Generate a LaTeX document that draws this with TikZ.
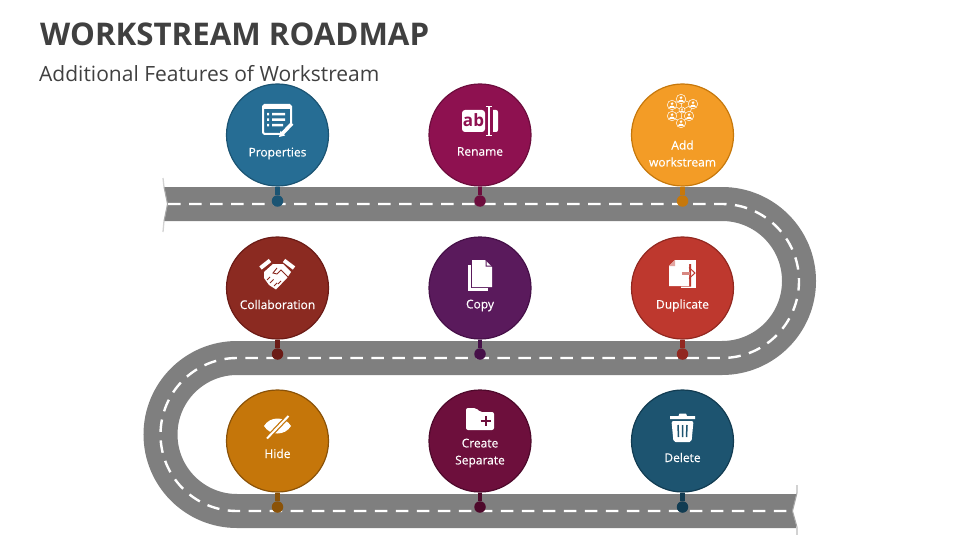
\documentclass[tikz,border=0pt]{standalone}
\usepackage{fontspec}
\setmainfont{Open Sans}
\newfontfamily\stopfont[FakeBold=0.35]{Open Sans}
\usepackage{tikz}
\usetikzlibrary{arrows.meta, positioning, calc}
\usepackage{xcolor}
\definecolor{roadgray}{RGB}{127,127,127}
\definecolor{titlegray}{RGB}{64,64,64}
\definecolor{propblue}{RGB}{38,109,148}
\definecolor{propdark}{RGB}{27,84,115}
\definecolor{renamemag}{RGB}{142,17,80}
\definecolor{renamedark}{RGB}{109,13,61}
\definecolor{addorange}{RGB}{243,156,38}
\definecolor{adddark}{RGB}{198,120,12}
\definecolor{collabred}{RGB}{139,42,33}
\definecolor{collabdark}{RGB}{107,27,22}
\definecolor{copypurple}{RGB}{90,26,92}
\definecolor{copydark}{RGB}{70,16,72}
\definecolor{dupred}{RGB}{190,56,46}
\definecolor{dupdark}{RGB}{146,40,32}
\definecolor{hideochre}{RGB}{197,118,10}
\definecolor{hidedark}{RGB}{138,82,8}
\definecolor{createwine}{RGB}{109,15,60}
\definecolor{createdark}{RGB}{78,9,43}
\definecolor{delnavy}{RGB}{29,84,112}
\definecolor{deldark}{RGB}{18,60,82}
\tikzset{
  roadbase/.style={draw=roadgray, line width=34pt},
  roaddash/.style={draw=white, line width=2.4pt, dash pattern=on 12.5pt off 8.5pt},
  stopdisc/.style={circle, minimum size=102pt, inner sep=0pt, line width=1.2pt},
  stoppin/.style={circle, minimum size=11.5pt, inner sep=0pt},
  stopstem/.style={line width=4.5pt},
  stoplabel/.style={text=white, font=\fontsize{12}{17}\stopfont, align=center, inner sep=0pt},
  netperson/.pic={
    \draw[white, line width=0.5pt, fill=addorange] (0,0) circle (5);
    \fill[white] (0,-1.4) circle (1.5);
    \fill[white] (-2.8,2.8) .. controls (-2.8,0.2) and (2.8,0.2) .. (2.8,2.8) -- cycle;
  }
}
\begin{document}
\begin{tikzpicture}[x=1pt, y=-1pt]
  \useasboundingbox (0,0) rectangle (960,540);

  % titles
  \node[anchor=west, inner sep=0pt, text=titlegray, font=\fontsize{31.25}{36}\selectfont\bfseries] (title) at (40,34) {WORKSTREAM ROADMAP};
  \node[anchor=west, inner sep=0pt, text=titlegray, font=\fontsize{21}{24}\selectfont] (subtitle) at (39,74) {Additional Features of Workstream};

  % road
  \draw[roadbase] (164,204) -- (722,204) arc[start angle=-90, end angle=90, radius=77] -- (237,358) arc[start angle=-90, end angle=-270, radius=76.5] -- (796,511);
  \draw[roaddash] (168,204) -- (722,204) arc[start angle=-90, end angle=90, radius=77] -- (237,358) arc[start angle=-90, end angle=-270, radius=76.5] -- (792,511);

  % road ends
  \fill[white] (160,186) -- (164,186) -- (167.5,204) -- (164,222) -- (160,222) -- cycle;
  \draw[gray!35, line width=1.3pt] (163,178) -- (164,187) (164,221) -- (163,232);
  \draw[gray!70, line width=1pt] (164,187) -- (167.5,204) -- (164,221);
  \fill[white] (800,492) -- (797,492) -- (792.5,511) -- (797,528) -- (800,528) -- cycle;
  \draw[gray!35, line width=1.3pt] (797,485) -- (797,493) (797,527) -- (797,535);
  \draw[gray!70, line width=1pt] (797,493) -- (792.5,511) -- (797,527);

  % stops, first row
  \node[stopdisc, fill=propblue, draw=propdark] (properties) at (277.5,135) {};
  \node[stoppin, fill=propdark] (pinproperties) at (277.5,201) {};
  \draw[stopstem, propdark] (properties.south) -- (pinproperties);
  \node[stoplabel] (txtproperties) at (277.5,153.5) {Properties};

  \node[stopdisc, fill=renamemag, draw=renamedark] (rename) at (480,135) {};
  \node[stoppin, fill=renamedark] (pinrename) at (480,201) {};
  \draw[stopstem, renamedark] (rename.south) -- (pinrename);
  \node[stoplabel] (txtrename) at (480,151.5) {Rename};

  \node[stopdisc, fill=addorange, draw=adddark] (addws) at (682.5,135) {};
  \node[stoppin, fill=adddark] (pinaddws) at (682.5,201) {};
  \draw[stopstem, adddark] (addws.south) -- (pinaddws);
  \node[stoplabel] (txtaddws) at (682.5,153.5) {Add\\workstream};

  % stops, second row
  \node[stopdisc, fill=collabred, draw=collabdark] (collab) at (277.5,288) {};
  \node[stoppin, fill=collabdark] (pincollab) at (277.5,354) {};
  \draw[stopstem, collabdark] (collab.south) -- (pincollab);
  \node[stoplabel] (txtcollab) at (277.5,304.5) {Collaboration};

  \node[stopdisc, fill=copypurple, draw=copydark] (copy) at (480,288) {};
  \node[stoppin, fill=copydark] (pincopy) at (480,354) {};
  \draw[stopstem, copydark] (copy.south) -- (pincopy);
  \node[stoplabel] (txtcopy) at (480,305.5) {Copy};

  \node[stopdisc, fill=dupred, draw=dupdark] (duplicate) at (682.5,288) {};
  \node[stoppin, fill=dupdark] (pinduplicate) at (682.5,354) {};
  \draw[stopstem, dupdark] (duplicate.south) -- (pinduplicate);
  \node[stoplabel] (txtduplicate) at (682.5,305.5) {Duplicate};

  % stops, third row
  \node[stopdisc, fill=hideochre, draw=hidedark] (hide) at (277.5,441) {};
  \node[stoppin, fill=hidedark] (pinhide) at (277.5,507) {};
  \draw[stopstem, hidedark] (hide.south) -- (pinhide);
  \node[stoplabel] (txthide) at (277.5,453.5) {Hide};

  \node[stopdisc, fill=createwine, draw=createdark] (create) at (480,441) {};
  \node[stoppin, fill=createdark] (pincreate) at (480,507) {};
  \draw[stopstem, createdark] (create.south) -- (pincreate);
  \node[stoplabel] (txtcreate) at (480,453) {Create\\Separate};

  \node[stopdisc, fill=delnavy, draw=deldark] (delete) at (682.5,441) {};
  \node[stoppin, fill=deldark] (pindelete) at (682.5,507) {};
  \draw[stopstem, deldark] (delete.south) -- (pindelete);
  \node[stoplabel] (txtdelete) at (682.5,457.5) {Delete};

  % properties icon
  \draw[white, line width=2pt, rounded corners=1.5pt] (284,134) -- (263,134) -- (263,105) -- (291,105) -- (291,124);
  \fill[white] (263,105) rectangle (291,109);
  \fill[white] (267,113) rectangle (269,115.5) (267,118.5) rectangle (269,121) (267,124) rectangle (269,126.5);
  \fill[white] (272,113) rectangle (285,115.5) (272,118.5) rectangle (285,121) (272,124) rectangle (283,126.5);
  \draw[propblue, line width=5pt] (281.5,134.5) -- (291,124.5);
  \draw[white, line width=3.6pt] (282.5,133.5) -- (292,123.5);
  \fill[white] (279,137) -- (280.5,131) -- (285,135.5) -- cycle;

  % rename icon
  \fill[white, rounded corners=3pt] (462,110) rectangle (485,132);
  \fill[white] (493,110) -- (496,110) .. controls (497.5,110) and (498,111) .. (498,112.5) -- (498,129.5) .. controls (498,131) and (497.5,132) .. (496,132) -- (493,132) -- cycle;
  \node[inner sep=0pt, text=renamemag, font=\fontsize{17}{17}\selectfont\bfseries] (abtext) at (473.5,120) {ab};
  \draw[white, line width=1.8pt] (489,106.5) -- (489,135.5) (486,106.5) -- (492,106.5) (486,135.5) -- (492,135.5);

  % add workstream icon
  \draw[white, line width=0.5pt] (681,99) -- (693,104) -- (689,116) -- (681,123) -- (672,116) -- (672,105) -- cycle;
  \draw[white, line width=0.5pt] (682,110) -- (681,99) (682,110) -- (693,104) (682,110) -- (672,105) (682,110) -- (672,116) (682,110) -- (689,116) (682,110) -- (681,123);
  \pic[scale=0.95] at (681,99) {netperson};
  \pic[scale=0.95] at (693,104) {netperson};
  \pic[scale=0.95] at (672,105) {netperson};
  \pic[scale=0.6] at (682,110) {netperson};
  \pic[scale=0.95] at (672,116) {netperson};
  \pic[scale=0.95] at (689,116) {netperson};
  \pic[scale=0.95] at (681,123) {netperson};

  % collaboration icon
  \draw[white, line width=4pt] (260.5,268) -- (270,260.5) (284,260.5) -- (294,268);
  \fill[white] (264,272) -- (273,264) -- (283,264) -- (291,272) -- (287,278) -- (276,289.5) -- (269,285) -- (264,278) -- cycle;
  \draw[collabred, line width=0.9pt] (277,268) -- (273,273) -- (277,274) -- (281,270) -- (288,277);
  \draw[collabred, line width=0.9pt] (267,280) -- (270,277) (270,283) -- (273.5,279.5) (274,286) -- (277,283) (278,284) -- (281,281);

  % copy icon
  \fill[white] (468,265) rectangle (488,291);
  \fill[copypurple] (470.5,259) rectangle (494,288);
  \fill[white] (472,260) -- (485,260) -- (492,267) -- (492,287) -- (472,287) -- cycle;
  \fill[copypurple] (485.5,260) -- (485.5,266.5) -- (492,266.5) -- (492,265.5) -- (486.5,265.5) -- (486.5,260) -- cycle;

  % duplicate icon
  \fill[white] (681,260) rectangle (696,288);
  \fill[dupred] (679,258) -- (681,258) -- (681,264) -- (691,264) -- (691,286.5) -- (679,286.5) -- cycle;
  \fill[white] (675,260) -- (689,260) -- (689,286) -- (669,286) -- (669,266) -- cycle;
  \fill[dupred!45!white] (675,260) -- (675,266) -- (669,266) -- cycle;
  \fill[dupred!60!white] (682,271.5) rectangle (690,274.5);
  \draw[dupred, line width=1pt] (689,267.5) -- (695,273) -- (689,278.5);

  % hide icon
  \fill[white] (264,426) .. controls (270,416) and (285,416) .. (291,426) .. controls (285,436) and (270,436) .. cycle;
  \draw[hideochre, line width=4.5pt] (268.5,437) -- (287.5,417);
  \draw[white, line width=2pt] (267,438.5) -- (288.5,416);

  % create separate icon
  \fill[white, rounded corners=2pt] (466,408) -- (476,408) -- (480,412) -- (494,412) -- (494,430) -- (466,430) -- cycle;
  \draw[createwine, line width=2.4pt] (480.5,421) -- (491,421) (485.8,415.8) -- (485.8,426.2);

  % delete icon
  \fill[white] (678.5,416) -- (679.5,413.5) -- (686,413.5) -- (687,416) -- (695,416) -- (695,419) -- (670,419) -- (670,416) -- cycle;
  \fill[white, rounded corners=2pt] (671.5,421) -- (693.5,421) -- (691.5,442) -- (673.5,442) -- cycle;
  \draw[delnavy, line width=1.5pt] (678,425) -- (678.5,437) (682.5,425) -- (682.5,437) (687,425) -- (686.5,437);
\end{tikzpicture}
\end{document}
